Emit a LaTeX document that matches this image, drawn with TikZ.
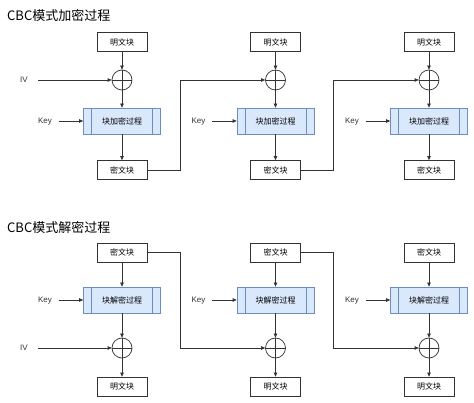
\documentclass[tikz,border=0pt]{standalone}
\usepackage{fontspec}
\setmainfont{Liberation Sans}
\newfontfamily\cjk{Noto Sans CJK SC}
\usetikzlibrary{arrows.meta}
\definecolor{ln}{HTML}{333333}
\definecolor{bfill}{HTML}{DAE8FC}
\definecolor{bdraw}{HTML}{6C8EBF}
\begin{document}
\begin{tikzpicture}[x=1pt,y=-1pt,
  tbox/.style={draw=ln,line width=0.7pt,fill=white,minimum width=50pt,minimum height=19pt,inner sep=0pt,font=\cjk\fontsize{8}{9}\selectfont},
  pbox/.style={draw=bdraw,line width=0.7pt,fill=bfill,minimum width=77pt,minimum height=26pt,inner sep=0pt,font=\cjk\fontsize{8}{9}\selectfont,
    path picture={\draw[bdraw,line width=0.7pt] ([xshift=8pt]path picture bounding box.north west) -- ([xshift=8pt]path picture bounding box.south west);
                  \draw[bdraw,line width=0.7pt] ([xshift=-8pt]path picture bounding box.north east) -- ([xshift=-8pt]path picture bounding box.south east);}},
  xorn/.style={circle,draw=ln,line width=0.7pt,fill=white,minimum size=20pt,inner sep=0pt,
    path picture={\draw[ln,line width=0.7pt] (path picture bounding box.north) -- (path picture bounding box.south);
                  \draw[ln,line width=0.7pt] (path picture bounding box.west) -- (path picture bounding box.east);}},
  lbl/.style={inner sep=0pt,font=\fontsize{8}{9}\selectfont,text=ln,text height=6pt,text depth=0pt},
  ttl/.style={inner sep=0pt,anchor=west,font=\cjk\fontsize{13}{15}\selectfont,text=black},
  arr/.style={draw=ln,line width=0.7pt,-{Triangle[length=4pt,width=3.5pt]}},
  karr/.style={arr,shorten <=6.5pt},
  ivarr/.style={arr,shorten <=10pt}
]
\useasboundingbox[fill=white] (0,0) rectangle (474,403);

% ===== Encryption =====
\node[ttl] (t1) at (7,16) {CBC模式加密过程};
\foreach \i/\x in {1/122,2/275.5,3/429}{
  \node[tbox] (p\i) at (\x,42) {明文块};
  \node[xorn] (x\i) at (\x,80) {};
  \node[pbox] (e\i) at (\x,121) {块加密过程};
  \node[tbox] (c\i) at (\x,170) {密文块};
  \node[lbl] (k\i) at (\x-77,121) {Key};
  \draw[arr] (p\i) -- (x\i);
  \draw[arr] (x\i) -- (e\i);
  \draw[arr] (e\i) -- (c\i);
  \draw[karr] (k\i.east) -- (e\i.west);
}
\node[lbl] (iv1) at (24,80) {IV};
\draw[ivarr] (iv1.east) -- (x1.west);
\draw[arr] (c1.east) -- ++(33,0) |- (x2.west);
\draw[arr] (c2.east) -- ++(32.5,0) |- (x3.west);

% ===== Decryption =====
\node[ttl] (t2) at (7,228) {CBC模式解密过程};
\foreach \i/\x in {1/122,2/275.5,3/429}{
  \node[tbox] (dc\i) at (\x,252.5) {密文块};
  \node[pbox] (d\i) at (\x,300) {块解密过程};
  \node[xorn] (dx\i) at (\x,348) {};
  \node[tbox] (dp\i) at (\x,386.5) {明文块};
  \node[lbl] (dk\i) at (\x-77,300) {Key};
  \draw[arr] (dc\i) -- (d\i);
  \draw[arr] (d\i) -- (dx\i);
  \draw[arr] (dx\i) -- (dp\i);
  \draw[karr] (dk\i.east) -- (d\i.west);
}
\node[lbl] (div1) at (24,348) {IV};
\draw[ivarr] (div1.east) -- (dx1.west);
\draw[arr] (dc1.east) -- ++(33,0) |- (dx2.west);
\draw[arr] (dc2.east) -- ++(32.5,0) |- (dx3.west);
\end{tikzpicture}
\end{document}
